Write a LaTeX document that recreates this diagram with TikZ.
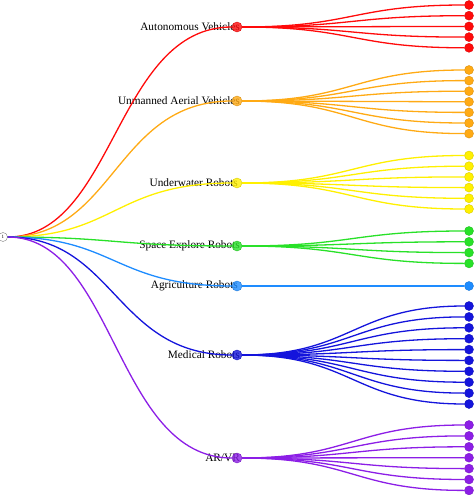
\documentclass[tikz,border=0pt]{standalone}
\usepackage{fontspec}
\setmainfont{Liberation Serif}
\usetikzlibrary{backgrounds}

\definecolor{cRed}{RGB}{255,10,10}
\definecolor{cOrange}{RGB}{255,170,20}
\definecolor{cYellow}{RGB}{255,240,0}
\definecolor{cGreen}{RGB}{40,225,40}
\definecolor{cAgri}{RGB}{30,140,255}
\definecolor{cBlue}{RGB}{20,20,220}
\definecolor{cPurple}{RGB}{140,30,230}

\begin{document}
\begin{tikzpicture}[x=1pt, y=-1pt,
    main/.style = {draw=gray, fill=white, circle, inner sep=0pt, minimum size=9pt, font=\fontsize{5}{5}\selectfont},
    cat/.style = {draw=#1!85!black, fill=#1, fill opacity=0.8, circle, inner sep=0pt, minimum size=10pt},
    leaf/.style = {draw=#1!85!black, fill=#1, circle, inner sep=0pt, minimum size=9pt},
    lbl/.style = {font=\fontsize{11.3}{12}\selectfont, anchor=east, inner sep=0pt},
    link/.style = {draw=#1, line width=1.3pt}]
    \useasboundingbox (0,0) rectangle (474,495);

    \node[main] (root) at (3,237) {1};

    \node[cat=cRed] (av) at (237,27) {};
    \node[cat=cOrange] (uav) at (237,101) {};
    \node[cat=cYellow] (uw) at (237,183) {};
    \node[cat=cGreen] (sp) at (237,246) {};
    \node[cat=cAgri] (ag) at (237,286) {};
    \node[cat=cBlue] (md) at (237,355) {};
    \node[cat=cPurple] (vr) at (237,458) {};

    \begin{scope}[on background layer]
        \node[lbl] at ([xshift=3pt]av.center) {Autonomous Vehicles};
        \node[lbl] at ([xshift=3pt]uav.center) {Unmanned Aerial Vehicles};
        \node[lbl] at ([xshift=1pt]uw.center) {Underwater Robots};
        \node[lbl] at ([xshift=3pt]sp.center) {Space Explore Robots};
        \node[lbl] at ([xshift=1pt]ag.center) {Agriculture Robots};
        \node[lbl] at ([xshift=3pt]md.center) {Medical Robots};
        \node[lbl] at ([xshift=3pt]vr.center) {AR/VR};
    \end{scope}

    % root to categories
    \draw[link=cRed] (root) .. controls +(112,0) and +(-122,0) .. (av);
    \draw[link=cOrange] (root) .. controls +(112,0) and +(-122,0) .. (uav);
    \draw[link=cYellow] (root) .. controls +(112,0) and +(-122,0) .. (uw);
    \draw[link=cGreen] (root) .. controls +(112,0) and +(-122,0) .. (sp);
    \draw[link=cAgri] (root) .. controls +(112,0) and +(-122,0) .. (ag);
    \draw[link=cBlue] (root) .. controls +(112,0) and +(-122,0) .. (md);
    \draw[link=cPurple] (root) .. controls +(112,0) and +(-122,0) .. (vr);

    % categories to leaves
    \foreach \y [count=\i] in {5,15.7,26.4,37.1,47.8} {
        \node[leaf=cRed] (av\i) at (469,\y) {};
        \draw[link=cRed] (av) .. controls +(116,0) and +(-116,0) .. (av\i);
    }
    \foreach \y [count=\i] in {70,80.6,91.2,101.8,112.4,123,133.6} {
        \node[leaf=cOrange] (uav\i) at (469,\y) {};
        \draw[link=cOrange] (uav) .. controls +(116,0) and +(-116,0) .. (uav\i);
    }
    \foreach \y [count=\i] in {155.5,166.2,176.9,187.6,198.3,209} {
        \node[leaf=cYellow] (uw\i) at (469,\y) {};
        \draw[link=cYellow] (uw) .. controls +(116,0) and +(-116,0) .. (uw\i);
    }
    \foreach \y [count=\i] in {231,241.8,252.6,263.4} {
        \node[leaf=cGreen] (sp\i) at (469,\y) {};
        \draw[link=cGreen] (sp) .. controls +(116,0) and +(-116,0) .. (sp\i);
    }
    \node[leaf=cAgri] (ag1) at (469,286) {};
    \draw[link=cAgri] (ag) -- (ag1);
    \foreach \y [count=\i] in {306,316.9,327.8,338.7,349.6,360.4,371.3,382.2,393.1,404} {
        \node[leaf=cBlue] (md\i) at (469,\y) {};
        \draw[link=cBlue] (md) .. controls +(116,0) and +(-116,0) .. (md\i);
    }
    \foreach \y [count=\i] in {425,435.9,446.8,457.7,468.6,479.5,490.4} {
        \node[leaf=cPurple] (vr\i) at (469,\y) {};
        \draw[link=cPurple] (vr) .. controls +(116,0) and +(-116,0) .. (vr\i);
    }
\end{tikzpicture}
\end{document}
